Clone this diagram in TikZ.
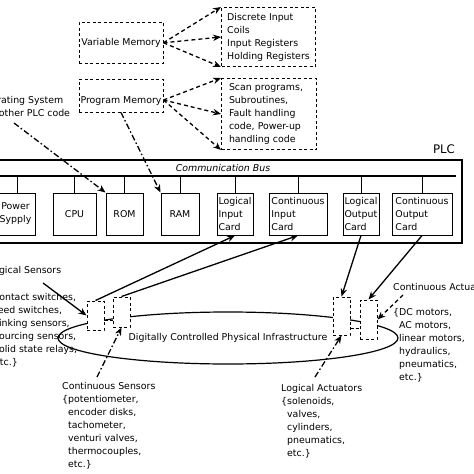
\documentclass[tikz,border=0pt]{standalone}
\usepackage{fontspec}
\setmainfont{DejaVu Sans}
\usetikzlibrary{arrows.meta,shapes.geometric,calc}
\begin{document}
\begin{tikzpicture}[x=1pt,y=-1pt,
  fnt/.style={font=\fontsize{9.4}{13}\selectfont},
  txt/.style={fnt, inner sep=0pt, align=left, anchor=north west},
  membox/.style={draw, fnt, dash pattern=on 3pt off 2.5pt, line width=1pt},
  comp/.style={draw, fnt, line width=1pt, minimum height=42pt, inner sep=1pt},
  sbox/.style={draw, fill=white, dash pattern=on 3pt off 2.5pt, line width=1pt, minimum width=17pt, inner sep=0pt},
  arr/.style={-{Stealth[length=8pt,width=6.5pt]}, line width=1.3pt},
  dasharr/.style={arr, dash pattern=on 4pt off 3pt},
  dotarr/.style={arr, dash pattern=on 6pt off 2.5pt on 1.5pt off 2.5pt},
  linkdash/.style={dash pattern=on 3pt off 2.5pt, line width=1pt}
]
\fill[white] (0,0) rectangle (474,474);
\useasboundingbox (0,0) rectangle (474,474);
\clip (0,0) rectangle (474,474);

% memory boxes
\node[membox, minimum width=84pt, minimum height=41pt, inner xsep=1pt] (vm) at (121,42.8) {Variable Memory};
\node[membox, minimum width=84pt, inner xsep=1pt, inner ysep=3pt, text depth=5.5pt, text height=21.5pt] (pm) at (121,95.5) {Program Memory};

\node[membox, align=left, anchor=north west, minimum width=94pt, minimum height=59pt, inner sep=2pt] (vl) at (221,7)
  {Discrete Input\\Coils\\Input Registers\\Holding Registers};
\node[membox, align=left, anchor=north west, text width=80pt, inner xsep=7.5pt, inner ysep=2pt, minimum height=71pt] (pl) at (221,78)
  {Scan programs,\\Subroutines,\\Fault handling\\code, Power-up\\handling code};

\foreach \a in {north west, west, south west}
  \draw[dasharr] (vm.east) -- (vl.\a);
\foreach \a in {north west, west, south west}
  \draw[dasharr] ([yshift=-4.5pt]pm.east) -- (pl.\a);

% PLC
\node[draw, line width=1.1pt, minimum width=467pt, minimum height=83pt, inner sep=0pt] (plc) at (228.5,201.5) {};
\node[font=\fontsize{11.8}{14}\selectfont, inner sep=0pt] (plcl) at (444,149) {PLC};
\coordinate (busL) at (-5,176);
\coordinate (busR) at (456,176);
\draw[line width=1.1pt] (busL) -- (busR);
\node[font=\fontsize{9.4}{13}\selectfont\itshape, inner sep=0pt] (busl) at (223,168) {Communication Bus};

\node[comp, minimum width=39pt, align=center] (ps) at (15.5,214) {Power\\Sypply};
\node[comp, minimum width=43pt] (cpu) at (74.5,214) {CPU};
\node[comp, minimum width=37pt] (rom) at (124.5,214) {ROM};
\node[comp, minimum width=38pt] (ram) at (180,214) {RAM};
\node[comp, minimum width=36pt, align=left] (lic) at (235,214) {Logical\\Input\\Card};
\node[comp, minimum width=58pt, align=left] (cic) at (298,214) {Continuous\\Input\\Card};
\node[comp, minimum width=36pt, align=left] (loc) at (361,214) {Logical\\Output\\Card};
\node[comp, minimum width=60pt, align=left] (coc) at (422,214) {Continuous\\Output\\Card};
\foreach \n in {cpu,rom,ram,lic,cic,loc,coc}
  \draw[line width=1pt] (\n.north) -- (\n.north |- busL);
\draw[line width=1pt] ([xshift=2pt]ps.north) -- ([xshift=2pt]ps.north |- busL);

% operating system note
\node[txt] (os) at (-22,96) {Operating System\\and other PLC code};
\coordinate (osp) at (14,123);
\draw[dotarr] (osp) -- (rom.north west);
\draw[dotarr] (pm.south) -- (ram.north west);

% physical infrastructure
\node[draw, ellipse, line width=1.2pt, minimum width=340pt, minimum height=52pt, fnt, inner sep=0pt] (inf) at (228,338)
  {Digitally Controlled Physical Infrastructure};
\node[sbox, minimum height=29pt] (sa) at (95.5,315.5) {};
\node[sbox, minimum height=30pt] (sb) at (121.5,312) {};
\node[sbox, minimum height=38pt] (sc) at (341.5,316) {};
\node[sbox, minimum height=39pt] (sd) at (368.5,319.5) {};
\draw[linkdash] ([yshift=-4.5pt]sa.east) -- ([yshift=-8pt]sb.west);
\draw[linkdash] ([yshift=-12pt]sc.east) -- ([yshift=-8.5pt]sd.west);

\draw[arr] (sa.north) -- (lic.south);
\draw[arr] (sb.north) -- (cic.south);
\draw[arr] (loc.south) -- (sc.north);
\draw[arr] (coc.south) -- (sd.north);

% labels
\node[txt] (lsh) at (-12,266) {Logical Sensors};
\node[txt] (lsl) at (-12,293) {\{contact switches,\\\hphantom{\{}reed switches,\\\hphantom{\{}sinking sensors,\\\hphantom{\{}sourcing sensors,\\\hphantom{\{}solid state relays,\\\hphantom{\{}etc.\}};
\coordinate (lsp) at (43,283);
\draw[arr] (lsp) -- (sa.west);

\node[txt] (csl) at (62,382) {Continuous Sensors\\\{potentiometer,\\\hphantom{\{}encoder disks,\\\hphantom{\{}tachometer,\\\hphantom{\{}venturi valves,\\\hphantom{\{}thermocouples,\\\hphantom{\{}etc.\}};
\coordinate (csp) at (97,377);
\draw[dotarr] (csp) -- (sb.south);

\node[txt] (lal) at (281,384) {Logical Actuators\\\{solenoids,\\\hphantom{\{}valves,\\\hphantom{\{}cylinders,\\\hphantom{\{}pneumatics,\\\hphantom{\{}etc.\}};
\coordinate (lap) at (315,377);
\draw[dotarr] (lap) -- (sc.south);

\node[txt] (cah) at (393,283) {Continuous Actuators};
\node[txt] (cal) at (393,308) {\{DC motors,\\\hphantom{\{}AC motors,\\\hphantom{\{}linear motors,\\\hphantom{\{}hydraulics,\\\hphantom{\{}pneumatics,\\\hphantom{\{}etc.\}};
\coordinate (cacp) at (403,295);
\draw[dasharr] (cacp) -- (sd.east);
\end{tikzpicture}
\end{document}
